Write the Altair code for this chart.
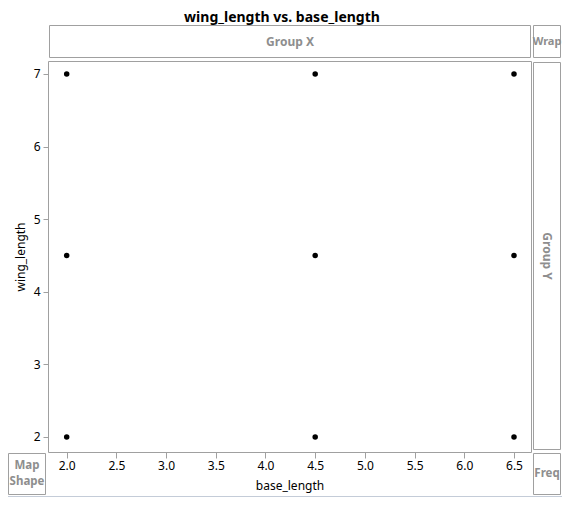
import altair as alt
import pandas as pd

# ---- data ----
base_length = [2.0, 2.0, 2.0, 4.5, 4.5, 4.5, 6.5, 6.5, 6.5]
wing_length = [2.0, 4.5, 7.0, 2.0, 4.5, 7.0, 2.0, 4.5, 7.0]
x_ticks = [2.0, 2.5, 3.0, 3.5, 4.0, 4.5, 5.0, 5.5, 6.0, 6.5]
y_ticks = [2, 3, 4, 5, 6, 7]
title_text = "wing_length vs. base_length"

df = pd.DataFrame({"base_length": base_length, "wing_length": wing_length})
one = alt.Data(values=[{"k": 1}])

FONT = "Noto Sans"
GRAY = "#a0a0a0"
LBL = "#8e8e8e"

points = alt.Chart(df).mark_circle(size=30, color="black", opacity=1).encode(
    x=alt.X(
        "base_length:Q",
        scale=alt.Scale(domain=[1.812, 6.671], nice=False, zero=False),
        axis=alt.Axis(
            values=x_ticks, format=".1f", tickSize=6, tickColor=GRAY, domain=False,
            grid=False, labelColor="black", labelFontSize=12, labelFont=FONT,
            labelPadding=2, title="base_length", titleFont=FONT, titleFontSize=12,
            titleFontWeight="normal", titleColor="black", titleX=241.5, titleY=33,
            titleBaseline="middle",
        ),
    ),
    y=alt.Y(
        "wing_length:Q",
        scale=alt.Scale(domain=[1.793, 7.179], nice=False, zero=False),
        axis=alt.Axis(
            values=y_ticks, format="d", tickSize=5, tickColor=GRAY, domain=False,
            grid=False, labelColor="black", labelFontSize=12, labelFont=FONT,
            labelPadding=3, title="wing_length", titleFont=FONT, titleFontSize=12,
            titleFontWeight="normal", titleColor="black", titleX=-28, titleY=195.5,
            titleBaseline="middle", titleAngle=270,
        ),
    ),
)


def box(x, x2, y, y2):
    return alt.Chart(one).mark_rect(fillOpacity=0, stroke=GRAY, strokeWidth=1).encode(
        x=alt.value(x), x2=alt.value(x2), y=alt.value(y), y2=alt.value(y2)
    )


def label(txt, x, y, angle=0, color=LBL, size=12, weight="bold"):
    return alt.Chart(one).mark_text(
        text=txt, font=FONT, fontSize=size, fontWeight=weight, color=color,
        align="center", baseline="middle", angle=angle, lineHeight=16,
    ).encode(x=alt.value(x), y=alt.value(y))


layers = [
    box(1.5, 482.5, -35.5, -3.5),      # Group X
    box(485.5, 512.5, -35.5, -3.5),    # Wrap
    box(485.5, 512.5, 1.5, 388.5),     # Group Y
    box(-39.5, -2.5, 392.5, 433.5),    # Map Shape
    box(485.5, 512.5, 392.5, 433.5),   # Freq
    alt.Chart(one).mark_rule(color="#c4ccd8", strokeWidth=1).encode(
        x=alt.value(-40), x2=alt.value(514), y=alt.value(435.5)
    ),
    label(title_text, 234, -43, color="black", size=14),
    label("Group X", 242, -19),
    label("Wrap", 499, -19, size=11),
    label("Group Y", 499, 195, angle=90),
    label(["Map", "Shape"], -21, 405, size=11.5),
    label("Freq", 499, 413, size=11.5),
    points,
]

chart = alt.layer(*layers).properties(
    width=483,
    height=391,
    autosize=alt.AutoSizeParams(type="none"),
    padding={"left": 40, "top": 53, "right": 31, "bottom": 45},
).configure_view(stroke=GRAY, strokeWidth=1)

chart.save("out.html", embed_options={"renderer": "svg", "actions": False})
